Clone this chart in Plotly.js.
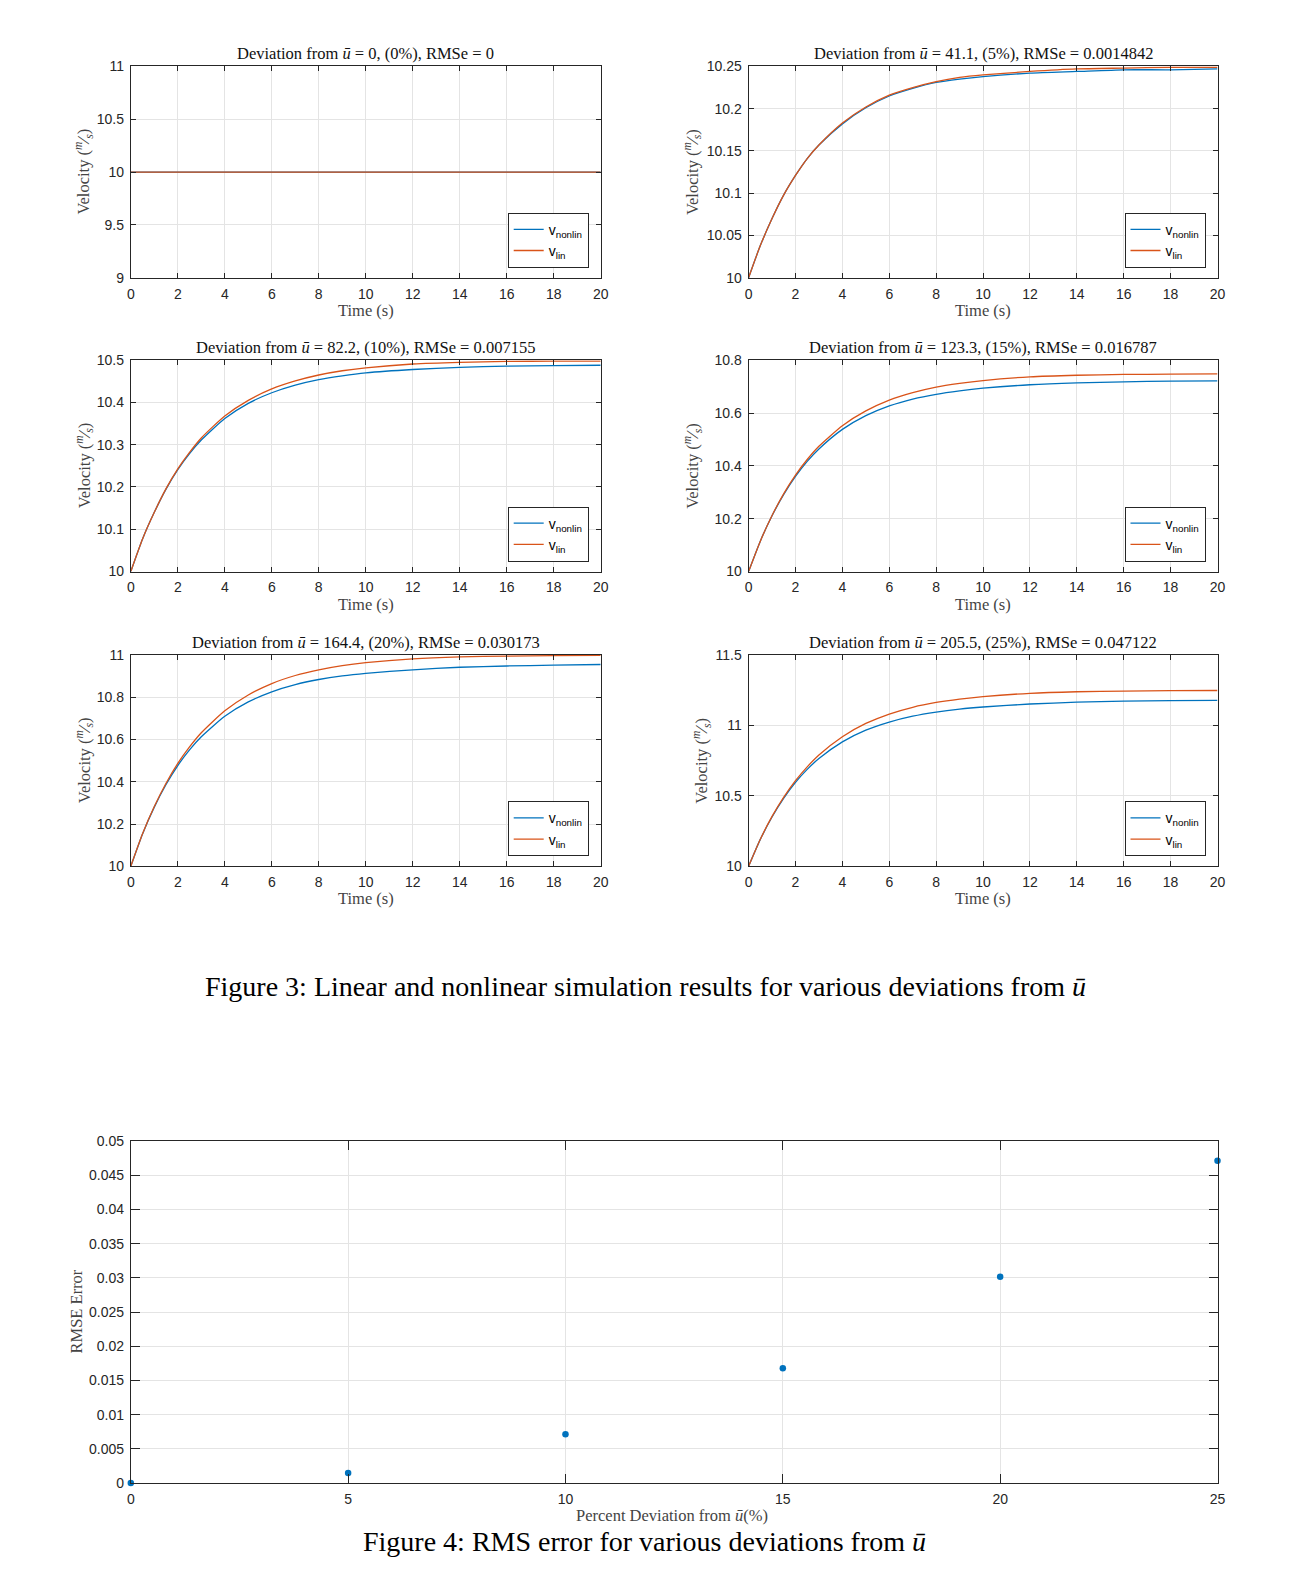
<!DOCTYPE html>
<html>
<head>
<meta charset="utf-8">
<script src="https://cdn.plot.ly/plotly-3.0.1.min.js"></script>
<style>html,body{margin:0;padding:0;background:#fff;}#chart{width:1304px;height:1578px;}</style>
</head>
<body>
<div id="chart"></div>
<script>
// ---- data ----
const timeS = [0,0.5,1,1.5,2,2.5,3,4,5,6,7,8,9,10,12,14,16,18,20];

const vNonlin0 = [10,10,10,10,10,10,10,10,10,10,10,10,10,10,10,10,10,10,10];
const vLin0    = [10,10,10,10,10,10,10,10,10,10,10,10,10,10,10,10,10,10,10];

const vNonlin5 = [10,10.038,10.070,10.098,10.121,10.141,10.157,10.182,10.201,10.215,10.224,10.231,10.235,10.238,10.242,10.244,10.246,10.246,10.247];
const vLin5    = [10,10.038,10.070,10.098,10.121,10.141,10.157,10.183,10.202,10.216,10.225,10.232,10.237,10.240,10.244,10.247,10.248,10.249,10.249];

const vNonlin10 = [10,10.077,10.140,10.195,10.241,10.279,10.311,10.362,10.398,10.423,10.441,10.454,10.463,10.470,10.478,10.483,10.486,10.487,10.488];
const vLin10    = [10,10.077,10.140,10.196,10.243,10.282,10.316,10.368,10.405,10.432,10.451,10.465,10.475,10.482,10.491,10.495,10.497,10.498,10.498];

const vNonlin15 = [10,10.115,10.211,10.292,10.360,10.417,10.464,10.538,10.590,10.627,10.653,10.671,10.684,10.694,10.707,10.714,10.718,10.721,10.722];
const vLin15    = [10,10.115,10.212,10.295,10.365,10.424,10.474,10.552,10.608,10.649,10.677,10.698,10.712,10.723,10.737,10.743,10.746,10.747,10.748];

const vNonlin20 = [10,10.153,10.280,10.387,10.477,10.551,10.613,10.710,10.778,10.826,10.860,10.884,10.901,10.913,10.930,10.942,10.948,10.952,10.955];
const vLin20    = [10,10.154,10.283,10.393,10.487,10.565,10.632,10.736,10.811,10.865,10.903,10.930,10.950,10.964,10.982,10.991,10.995,10.997,10.998];

const vNonlin25 = [10,10.191,10.350,10.484,10.596,10.688,10.765,10.883,10.966,11.024,11.066,11.095,11.116,11.131,11.152,11.165,11.172,11.176,11.178];
const vLin25    = [10,10.192,10.354,10.491,10.608,10.706,10.790,10.920,11.014,11.081,11.129,11.163,11.187,11.205,11.228,11.239,11.244,11.247,11.248];

const percentDev = [0,5,10,15,20,25];
const uDeviation = ['0','41.1','82.2','123.3','164.4','205.5'];
const rmseText   = ['0','0.0014842','0.007155','0.016787','0.030173','0.047122'];
const rmseError  = [0,0.0014842,0.007155,0.016787,0.030173,0.047122];

const timeTicks = [0,2,4,6,8,10,12,14,16,18,20];
const yTickVals = [
  [9,9.5,10,10.5,11],
  [10,10.05,10.1,10.15,10.2,10.25],
  [10,10.1,10.2,10.3,10.4,10.5],
  [10,10.2,10.4,10.6,10.8],
  [10,10.2,10.4,10.6,10.8,11],
  [10,10.5,11,11.5]
];
const yTickText = [
  ['9','9.5','10','10.5','11'],
  ['10','10.05','10.1','10.15','10.2','10.25'],
  ['10','10.1','10.2','10.3','10.4','10.5'],
  ['10','10.2','10.4','10.6','10.8'],
  ['10','10.2','10.4','10.6','10.8','11'],
  ['10','10.5','11','11.5']
];
const yRanges = [[9,11],[10,10.25],[10,10.5],[10,10.8],[10,11],[10,11.5]];
const rmseTicks = [0,0.005,0.01,0.015,0.02,0.025,0.03,0.035,0.04,0.045,0.05];
const rmseTickText = ['0','0.005','0.01','0.015','0.02','0.025','0.03','0.035','0.04','0.045','0.05'];
const pctTicks = [0,5,10,15,20,25];

const nonlinSeries = [vNonlin0,vNonlin5,vNonlin10,vNonlin15,vNonlin20,vNonlin25];
const linSeries = [vLin0,vLin5,vLin10,vLin15,vLin20,vLin25];

// ---- layout helpers ----
const W = 1304, H = 1578;
const fx = p => p / W;
const fy = p => 1 - p / H;

const colL = [130.8, 600.7], colR = [748.6, 1217.5];
const rows = [[66.4, 277.7], [360.2, 571.5], [655, 866.3]];
const BLUE = '#0072BD', ORANGE = '#D95319';
const AX = '#262626', GRID = '#e4e4e4';
const tickFont = {family: 'Liberation Sans, Arial, sans-serif', size: 14, color: AX};
const serif = 'Liberation Serif, Times New Roman, serif';

const data = [];
const layout = {
  width: W, height: H,
  margin: {l:0, r:0, t:0, b:0},
  paper_bgcolor: '#fff', plot_bgcolor: '#fff',
  showlegend: true,
  annotations: []
};

for (let i = 0; i < 6; i++) {
  const r = Math.floor(i / 2), c = i % 2;
  const col = c === 0 ? colL : colR;
  const row = rows[r];
  const n = i + 1;
  const xa = 'xaxis' + (n === 1 ? '' : n), ya = 'yaxis' + (n === 1 ? '' : n);
  const xr = 'x' + (n === 1 ? '' : n), yr = 'y' + (n === 1 ? '' : n);
  const lg = 'legend' + (n === 1 ? '' : n);

  data.push({x: timeS, y: nonlinSeries[i], xaxis: xr, yaxis: yr, type: 'scatter', mode: 'lines',
    line: {color: BLUE, width: 1.3, shape: 'spline', smoothing: 0.6}, name: 'v<sub>nonlin</sub>', legend: lg});
  data.push({x: timeS, y: linSeries[i], xaxis: xr, yaxis: yr, type: 'scatter', mode: 'lines',
    line: {color: ORANGE, width: 1.3, shape: 'spline', smoothing: 0.6}, name: 'v<sub>lin</sub>', legend: lg});

  layout[xa] = {
    domain: [fx(col[0]), fx(col[1])], anchor: yr, range: [0, 20],
    tickvals: timeTicks, ticks: 'inside', ticklen: 5, tickcolor: AX, tickwidth: 1,
    showline: true, linecolor: AX, linewidth: 1, mirror: 'ticks',
    showgrid: true, gridcolor: GRID, gridwidth: 1, zeroline: false,
    tickfont: tickFont, ticklabelstandoff: 3
  };
  layout[ya] = {
    domain: [fy(row[1]), fy(row[0])], anchor: xr, range: yRanges[i],
    tickvals: yTickVals[i], ticktext: yTickText[i], ticks: 'inside', ticklen: 5, tickcolor: AX, tickwidth: 1,
    showline: true, linecolor: AX, linewidth: 1, mirror: 'ticks',
    showgrid: true, gridcolor: GRID, gridwidth: 1, zeroline: false,
    tickfont: tickFont, ticklabelstandoff: 3
  };
  layout[lg] = {
    x: fx(col[1] - 12), xanchor: 'right', y: fy(row[1] - 10), yanchor: 'bottom',
    xref: 'paper', yref: 'paper',
    bgcolor: '#fff', bordercolor: AX, borderwidth: 1,
    font: {family: 'Liberation Sans, Arial, sans-serif', size: 14, color: '#000'},
    tracegroupgap: 0
  };

  const cx = (col[0] + col[1]) / 2;
  layout.annotations.push({
    xref: 'paper', yref: 'paper', x: fx(cx), y: fy(row[0] - 13), xanchor: 'center', yanchor: 'middle', showarrow: false,
    text: 'Deviation from <i>ū</i> = ' + uDeviation[i] + ', (' + percentDev[i] + '%), RMSe = ' + rmseText[i],
    font: {family: serif, size: 16.5, color: '#111'}
  });
  layout.annotations.push({
    xref: 'paper', yref: 'paper', x: fx(cx), y: fy(row[1] + 32.5), xanchor: 'center', yanchor: 'middle', showarrow: false,
    text: 'Time (s)', font: {family: serif, size: 16.5, color: '#444'}
  });
  const ylx = c === 0 ? 83.5 : (i === 5 ? 701 : 692);
  layout.annotations.push({
    xref: 'paper', yref: 'paper', x: fx(ylx), y: fy((row[0] + row[1]) / 2), xanchor: 'center', yanchor: 'middle', showarrow: false,
    textangle: -90, text: 'Velocity (<sup><i>m</i></sup>⁄<sub><i>s</i></sub>)', font: {family: serif, size: 16.5, color: '#444'}
  });
}

// Figure 4 scatter
data.push({x: percentDev, y: rmseError, xaxis: 'x7', yaxis: 'y7', type: 'scatter', mode: 'markers',
  marker: {color: BLUE, size: 6.5}, cliponaxis: false, showlegend: false});
layout.xaxis7 = {
  domain: [fx(130.8), fx(1217.5)], anchor: 'y7', range: [0, 25],
  tickvals: pctTicks, ticks: 'inside', ticklen: 9, tickcolor: AX, tickwidth: 1,
  showline: true, linecolor: AX, linewidth: 1, mirror: 'ticks',
  showgrid: true, gridcolor: GRID, zeroline: false, tickfont: tickFont, ticklabelstandoff: 3
};
layout.yaxis7 = {
  domain: [fy(1483.1), fy(1141)], anchor: 'x7', range: [0, 0.05],
  tickvals: rmseTicks, ticktext: rmseTickText, ticks: 'inside', ticklen: 9, tickcolor: AX, tickwidth: 1,
  showline: true, linecolor: AX, linewidth: 1, mirror: 'ticks',
  showgrid: true, gridcolor: GRID, zeroline: false, tickfont: tickFont, ticklabelstandoff: 3
};
layout.annotations.push({
  xref: 'paper', yref: 'paper', x: fx(672), y: fy(1515), xanchor: 'center', yanchor: 'middle', showarrow: false,
  text: 'Percent Deviation from <i>ū</i>(%)', font: {family: serif, size: 16.5, color: '#444'}
});
layout.annotations.push({
  xref: 'paper', yref: 'paper', x: fx(75.5), y: fy(1312), xanchor: 'center', yanchor: 'middle', showarrow: false,
  textangle: -90, text: 'RMSE Error', font: {family: serif, size: 16.5, color: '#444'}
});
// Captions
layout.annotations.push({
  xref: 'paper', yref: 'paper', x: fx(645), y: fy(986), xanchor: 'center', yanchor: 'middle', showarrow: false,
  text: 'Figure 3: Linear and nonlinear simulation results for various deviations from <i>ū</i>',
  font: {family: serif, size: 28, color: '#000'}
});
layout.annotations.push({
  xref: 'paper', yref: 'paper', x: fx(644), y: fy(1541), xanchor: 'center', yanchor: 'middle', showarrow: false,
  text: 'Figure 4: RMS error for various deviations from <i>ū</i>',
  font: {family: serif, size: 28, color: '#000'}
});

Plotly.newPlot('chart', data, layout, {displayModeBar: false, staticPlot: true});
</script>
</body>
</html>
